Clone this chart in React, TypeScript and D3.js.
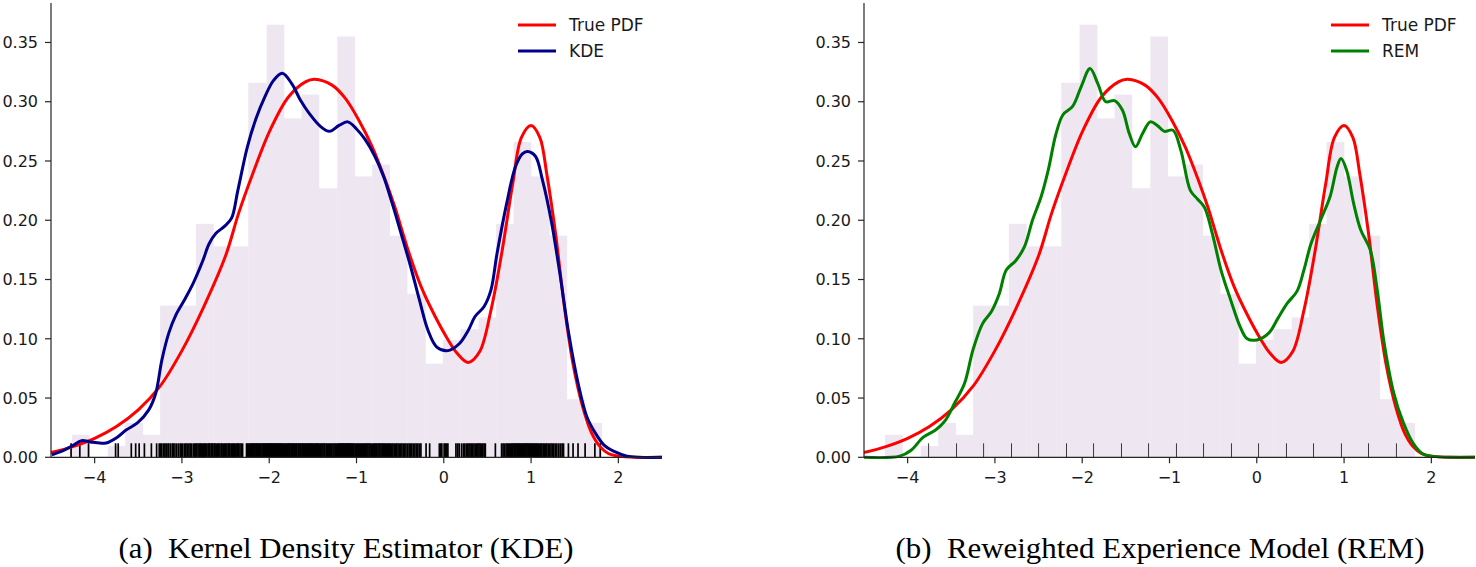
import * as React from "react";
import * as d3 from "d3";

// histogram shared by both panels (density normalised, 30 bins)
const binEdges = [
  -4.26, -4.06, -3.85, -3.65, -3.45, -3.25, -3.05, -2.84, -2.64, -2.44, -2.24,
  -2.03, -1.83, -1.63, -1.43, -1.22, -1.02, -0.82, -0.62, -0.42, -0.21, -0.01,
  0.19, 0.4, 0.6, 0.8, 1.0, 1.21, 1.41, 1.61, 1.81,
];
const binHeights = [
  0.019, 0.0, 0.0095, 0.029, 0.019, 0.128, 0.128, 0.197, 0.178, 0.178, 0.316,
  0.365, 0.286, 0.306, 0.227, 0.355, 0.237, 0.247, 0.187, 0.138, 0.079, 0.099,
  0.108, 0.118, 0.197, 0.266, 0.237, 0.187, 0.049, 0.029,
];

// true density
const pdfX = [
  -4.5, -4.25, -4.0, -3.75, -3.5, -3.25, -3.0, -2.75, -2.5, -2.35, -2.19, -1.99,
  -1.78, -1.58, -1.48, -1.28, -1.13, -0.97, -0.82, -0.67, -0.56, -0.41, -0.26,
  -0.1, 0.05, 0.15, 0.28, 0.41, 0.54, 0.67, 0.79, 0.89, 1.0, 1.1, 1.18, 1.28,
  1.38, 1.48, 1.59, 1.69, 1.79, 1.89, 2.0, 2.2, 2.5,
];
const pdfY = [
  0.004, 0.009, 0.016, 0.026, 0.04, 0.06, 0.09, 0.127, 0.17, 0.206, 0.239, 0.276,
  0.304, 0.317, 0.319, 0.314, 0.303, 0.284, 0.262, 0.234, 0.211, 0.175, 0.144,
  0.119, 0.099, 0.088, 0.08, 0.089, 0.124, 0.175, 0.231, 0.27, 0.28, 0.27, 0.239,
  0.189, 0.128, 0.079, 0.043, 0.021, 0.009, 0.003, 0.001, 0.0, 0.0,
];

// kernel density estimate
const kdeX = [
  -4.49, -4.35, -4.25, -4.15, -4.05, -3.94, -3.87, -3.74, -3.64, -3.51, -3.38,
  -3.3, -3.23, -3.15, -3.07, -2.97, -2.87, -2.76, -2.69, -2.61, -2.51, -2.43,
  -2.36, -2.25, -2.15, -2.05, -1.95, -1.85, -1.74, -1.64, -1.54, -1.41, -1.31,
  -1.2, -1.1, -1.0, -0.9, -0.79, -0.69, -0.59, -0.49, -0.38, -0.28, -0.18,
  -0.08, 0.05, 0.18, 0.28, 0.36, 0.46, 0.54, 0.61, 0.72, 0.82, 0.9, 0.96, 1.05,
  1.13, 1.23, 1.33, 1.43, 1.54, 1.64, 1.74, 1.84, 1.95, 2.1, 2.5,
];
const kdeY = [
  0.002, 0.006, 0.01, 0.014, 0.013, 0.012, 0.012, 0.017, 0.023, 0.029, 0.04,
  0.054, 0.082, 0.105, 0.12, 0.133, 0.147, 0.166, 0.18, 0.189, 0.195, 0.202,
  0.225, 0.262, 0.286, 0.304, 0.318, 0.324, 0.315, 0.301, 0.29, 0.279, 0.275,
  0.28, 0.283, 0.277, 0.268, 0.254, 0.237, 0.214, 0.189, 0.161, 0.133, 0.107,
  0.093, 0.09, 0.096, 0.107, 0.119, 0.127, 0.141, 0.172, 0.214, 0.245, 0.256,
  0.258, 0.254, 0.234, 0.2, 0.155, 0.105, 0.062, 0.034, 0.02, 0.01, 0.005,
  0.001, 0.0,
];

// reweighted experience model
const remX = [
  -4.5, -4.09, -3.96, -3.82, -3.68, -3.57, -3.46, -3.35, -3.25, -3.14, -3.04,
  -2.95, -2.87, -2.76, -2.66, -2.57, -2.47, -2.39, -2.3, -2.22, -2.11, -2.01,
  -1.91, -1.82, -1.73, -1.63, -1.54, -1.46, -1.39, -1.31, -1.22, -1.14, -1.06,
  -0.96, -0.87, -0.76, -0.68, -0.6, -0.51, -0.41, -0.3, -0.19, -0.11, 0.0,
  0.14, 0.24, 0.35, 0.46, 0.54, 0.62, 0.73, 0.84, 0.92, 0.965, 1.03, 1.11, 1.19,
  1.3, 1.38, 1.46, 1.57, 1.68, 1.79, 1.9, 2.0, 2.5,
];
const remY = [
  0.0, 0.001, 0.006, 0.017, 0.023, 0.031, 0.046, 0.062, 0.091, 0.113, 0.123,
  0.138, 0.158, 0.166, 0.178, 0.2, 0.22, 0.242, 0.273, 0.289, 0.296, 0.313,
  0.328, 0.315, 0.3, 0.301, 0.293, 0.273, 0.262, 0.273, 0.283, 0.28, 0.275,
  0.276, 0.259, 0.225, 0.218, 0.211, 0.189, 0.158, 0.133, 0.11, 0.1, 0.099,
  0.105, 0.117, 0.13, 0.14, 0.158, 0.18, 0.2, 0.22, 0.245, 0.252, 0.242, 0.214,
  0.192, 0.175, 0.141, 0.096, 0.054, 0.029, 0.012, 0.003, 0.001, 0.0,
];

// sample positions shown as rug in (a)
const kdeRug = [
  -4.27, -4.17, -4.07, -3.76, -3.73, -3.58, -3.53, -3.49, -3.43, -3.35, -3.29,
  -3.26, -3.245, -3.23, -3.21, -3.195, -3.18, -3.16, -3.15, -3.13, -3.11, -3.1,
  -3.08, -3.06, -3.04, -3.02, -3.005, -2.99, -2.97, -2.955, -2.94, -2.92, -2.905,
  -2.89, -2.87, -2.855, -2.84, -2.83, -2.815, -2.8, -2.79, -2.78, -2.765, -2.75,
  -2.74, -2.73, -2.715, -2.7, -2.69, -2.68, -2.665, -2.655, -2.645, -2.63, -2.62,
  -2.605, -2.59, -2.58, -2.565, -2.55, -2.54, -2.525, -2.51, -2.5, -2.485, -2.47,
  -2.46, -2.45, -2.435, -2.42, -2.41, -2.4, -2.385, -2.37, -2.36, -2.35, -2.335,
  -2.32, -2.305, -2.26, -2.25, -2.236, -2.224, -2.217, -2.203, -2.196, -2.183,
  -2.177, -2.164, -2.152, -2.148, -2.133, -2.127, -2.114, -2.102, -2.097, -2.083,
  -2.071, -2.066, -2.052, -2.044, -2.037, -2.026, -2.018, -2.009, -1.998, -1.992,
  -1.981, -1.973, -1.966, -1.955, -1.947, -1.938, -1.93, -1.919, -1.912, -1.903,
  -1.894, -1.886, -1.875, -1.868, -1.857, -1.849, -1.838, -1.826, -1.815, -1.806,
  -1.793, -1.784, -1.772, -1.765, -1.751, -1.743, -1.732, -1.724, -1.711, -1.702,
  -1.691, -1.683, -1.669, -1.658, -1.647, -1.636, -1.624, -1.615, -1.603, -1.594,
  -1.583, -1.571, -1.562, -1.553, -1.541, -1.532, -1.521, -1.512, -1.503, -1.491,
  -1.482, -1.471, -1.462, -1.451, -1.442, -1.434, -1.423, -1.409, -1.396, -1.384,
  -1.371, -1.362, -1.347, -1.333, -1.321, -1.308, -1.296, -1.283, -1.269, -1.257,
  -1.243, -1.231, -1.217, -1.209, -1.198, -1.191, -1.182, -1.173, -1.165, -1.154,
  -1.146, -1.137, -1.128, -1.119, -1.111, -1.102, -1.094, -1.085, -1.076, -1.067,
  -1.059, -1.048, -1.039, -1.028, -1.013, -1.002, -0.989, -0.978, -0.966, -0.953,
  -0.941, -0.93, -0.917, -0.905, -0.893, -0.881, -0.869, -0.856, -0.845, -0.832,
  -0.814, -0.803, -0.79, -0.779, -0.767, -0.754, -0.742, -0.731, -0.719, -0.706,
  -0.694, -0.683, -0.671, -0.658, -0.646, -0.633, -0.624, -0.611, -0.597, -0.583,
  -0.568, -0.552, -0.539, -0.524, -0.508, -0.493, -0.479, -0.462, -0.448, -0.433,
  -0.414, -0.397, -0.381, -0.366, -0.349, -0.331, -0.314, -0.297, -0.279, -0.262,
  -0.203, -0.162, -0.051, -0.034, -0.022, 0.004, 0.018, 0.031, 0.047, 0.139,
  0.158, 0.176, 0.203, 0.224, 0.241, 0.259, 0.272, 0.288, 0.301, 0.317, 0.33,
  0.346, 0.362, 0.378, 0.391, 0.404, 0.418, 0.431, 0.447, 0.462, 0.476, 0.591,
  0.662, 0.679, 0.694, 0.713, 0.726, 0.741, 0.752, 0.768, 0.779, 0.791, 0.804,
  0.813, 0.826, 0.838, 0.847, 0.859, 0.868, 0.879, 0.891, 0.899, 0.911, 0.922,
  0.931, 0.943, 0.952, 0.964, 0.973, 0.985, 0.994, 1.006, 1.017, 1.026, 1.038,
  1.049, 1.061, 1.072, 1.083, 1.097, 1.112, 1.124, 1.139, 1.153, 1.168, 1.181,
  1.197, 1.212, 1.228, 1.243, 1.261, 1.279, 1.296, 1.318, 1.337, 1.356, 1.372,
  1.428, 1.481, 1.538, 1.619, 1.731, 1.792,
];

// experience points shown as rug in (b)
const remRug = [
  -3.76, -3.44, -3.13, -2.81, -2.5, -2.18, -1.87, -1.55, -1.24, -0.92, -0.61,
  -0.29, 0.02, 0.34, 0.65, 0.97, 1.28, 1.6,
];

const xTicks = [-4, -3, -2, -1, 0, 1, 2];
const yTicks = [0, 0.05, 0.1, 0.15, 0.2, 0.25, 0.3, 0.35];

const zip = (xs: number[], ys: number[]) => xs.map((x, i) => [x, ys[i]] as [number, number]);

interface PanelProps {
  left: number;
  right: number;
  estX: number[];
  estY: number[];
  estColor: string;
  estLabel: string;
  rug: number[];
  rugColor: string;
  rugWidth: number;
  caption: string;
  captionX: number;
  captionWidth: number;
}

const TOP = 3;
const BOTTOM = 457.3;
const TICK_FONT = "'DejaVu Sans', sans-serif";

const Panel: React.FC<PanelProps> = ({
  left, right, estX, estY, estColor, estLabel, rug, rugColor, rugWidth, caption, captionX, captionWidth,
}) => {
  const x = d3.scaleLinear().domain([-4.5, 2.5]).range([left, right]);
  const y = d3.scaleLinear().domain([0, 0.3833]).range([BOTTOM, TOP]);
  const line = d3
    .line<[number, number]>()
    .x((d) => x(d[0]))
    .y((d) => y(d[1]))
    .curve(d3.curveCatmullRom.alpha(0.5));
  const fmt = d3.format(".2f");
  const minus = (s: string) => s.replace("-", "\u2212");

  return (
    <g>
      <g>
        {binHeights.map((h, i) => (
          <rect
            key={i}
            x={x(binEdges[i])}
            width={x(binEdges[i + 1]) - x(binEdges[i]) + 0.3}
            y={y(h)}
            height={BOTTOM - y(h)}
            fill="#eee7f1"
          />
        ))}
      </g>
      <g stroke={rugColor} strokeWidth={rugWidth}>
        {rug.map((v, i) => (
          <line key={i} x1={x(v)} x2={x(v)} y1={BOTTOM} y2={BOTTOM - 14} />
        ))}
      </g>
      <path d={line(zip(pdfX, pdfY)) || ""} fill="none" stroke="#ff0000" strokeWidth={3} />
      <path d={line(zip(estX, estY)) || ""} fill="none" stroke={estColor} strokeWidth={3} />

      {/* spines */}
      <line x1={left} x2={left} y1={TOP} y2={BOTTOM} stroke="#262626" strokeWidth={1.2} />
      <line x1={left} x2={right} y1={BOTTOM} y2={BOTTOM} stroke="#262626" strokeWidth={1.2} />

      {yTicks.map((t) => (
        <g key={t}>
          <line x1={left - 6} x2={left} y1={y(t)} y2={y(t)} stroke="#262626" strokeWidth={1.2} />
          <text
            x={left - 13}
            y={y(t)}
            dy="0.36em"
            textAnchor="end"
            fontFamily={TICK_FONT}
            fontSize={16}
            fill="#1a1a1a"
          >
            {fmt(t)}
          </text>
        </g>
      ))}
      {xTicks.map((t) => (
        <g key={t}>
          <line x1={x(t)} x2={x(t)} y1={BOTTOM} y2={BOTTOM + 6} stroke="#262626" strokeWidth={1.2} />
          <text
            x={x(t)}
            y={483}
            textAnchor="middle"
            fontFamily={TICK_FONT}
            fontSize={16}
            fill="#1a1a1a"
          >
            {minus(String(t))}
          </text>
        </g>
      ))}

      {/* legend */}
      <line x1={right - 144} x2={right - 106} y1={25} y2={25} stroke="#ff0000" strokeWidth={3} />
      <text x={right - 93} y={25} dy="0.36em" fontFamily={TICK_FONT} fontSize={17} fill="#1a1a1a">
        True PDF
      </text>
      <line x1={right - 144} x2={right - 106} y1={51} y2={51} stroke={estColor} strokeWidth={3} />
      <text x={right - 93} y={51} dy="0.36em" fontFamily={TICK_FONT} fontSize={17} fill="#1a1a1a">
        {estLabel}
      </text>

      <text
        x={captionX}
        y={558}
        textAnchor="middle"
        fontFamily="'Liberation Serif', 'Times New Roman', serif"
        fontSize={30}
        fill="#000"
        textLength={captionWidth}
        lengthAdjust="spacingAndGlyphs"
        style={{ whiteSpace: "pre" }}
      >
        {caption}
      </text>
    </g>
  );
};

export default function App() {
  return (
    <svg
      width={1476}
      height={567}
      style={{ position: "absolute", left: 0, top: 0, background: "#fff" }}
    >
      <Panel
        left={51}
        right={662}
        estX={kdeX}
        estY={kdeY}
        estColor="#00008b"
        estLabel="KDE"
        rug={kdeRug}
        rugColor="#000"
        rugWidth={1.7}
        caption={"(a)  Kernel Density Estimator (KDE)"}
        captionX={346}
        captionWidth={455}
      />
      <Panel
        left={864}
        right={1475}
        estX={remX}
        estY={remY}
        estColor="#008000"
        estLabel="REM"
        rug={remRug}
        rugColor="#3a3a3a"
        rugWidth={1}
        caption={"(b)  Reweighted Experience Model (REM)"}
        captionX={1160}
        captionWidth={529}
      />
    </svg>
  );
}
